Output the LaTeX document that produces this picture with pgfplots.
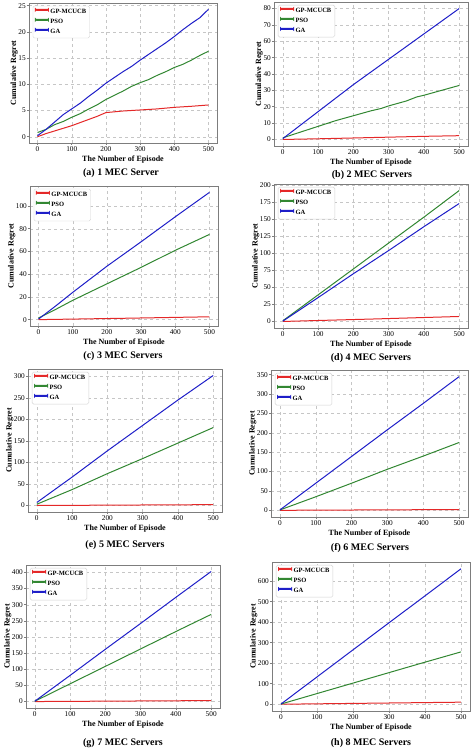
\documentclass[border=0pt]{standalone}
\usepackage{fontspec}
\setmainfont{Liberation Serif}
\usepackage{pgfplots}
\pgfplotsset{compat=1.18}
\definecolor{cred}{RGB}{228,40,40}
\definecolor{cgreen}{RGB}{50,135,50}
\definecolor{cblue}{RGB}{30,30,200}
\definecolor{frame}{RGB}{125,125,125}
\pgfplotsset{
  myax/.style={
    scale only axis,
    anchor=north west,
    xmin=-25, xmax=525,
    xtick={0,100,...,500},
    /pgf/number format/assume math mode=true,
    tick label style={font=\fontsize{7.3}{8}\selectfont, inner sep=1pt},
    label style={font=\bfseries\fontsize{8}{9}\selectfont},
    xlabel={The Number of Episode},
    ylabel={Cumulative Regret},
    ylabel style={yshift=-4pt},
    grid=major,
    major grid style={dashed, gray!45, line width=0.4pt},
    axis line style={frame, line width=0.9pt},
    tick align=outside,
    major tick length=2pt,
    tick style={frame, line width=0.5pt},
    xtick pos=bottom, ytick pos=left,
    legend style={at={(0.02,0.98)}, anchor=north west,
      font=\bfseries\fontsize{6.5}{7}\selectfont,
      draw=gray!35, rounded corners=1.5pt, row sep=1pt,
      nodes={text height=4.6pt, text depth=1.4pt, inner sep=1.5pt},
      inner xsep=2pt, inner ysep=1.5pt, cells={anchor=west}},
    legend image code/.code={\fill[#1] (0pt,1.7pt) rectangle (13pt,2.7pt);},
    legend cell align=left,
  },
}
\begin{document}
\begin{tikzpicture}
\useasboundingbox (0pt,0pt) rectangle (474pt,-749pt);
% (a)
\begin{axis}[myax, at={(29pt,-3pt)}, width=188pt, height=140pt, ymin=-1.2, ymax=25.5, ytick={0,5,...,25}]
\addplot[cred, line width=1pt] coordinates {(0,0)(25,0.6)(50,1.1)(75,1.6)(100,2.1)(125,2.7)(150,3.3)(175,3.9)(200,4.6)(250,4.9)(300,5.1)(350,5.3)(400,5.6)(450,5.8)(500,6.05)};
\addplot[cgreen, line width=1pt] coordinates {(0,0.8)(25,1.4)(50,2.3)(75,2.9)(100,3.7)(125,4.4)(150,5.3)(175,6.1)(200,7.1)(225,7.9)(250,8.7)(275,9.6)(300,10.3)(325,10.9)(350,11.7)(375,12.4)(400,13.2)(425,13.8)(450,14.6)(475,15.5)(500,16.3)};
\addplot[cblue, line width=1pt] coordinates {(0,0.2)(25,1.4)(50,2.8)(75,4.2)(100,5.3)(125,6.4)(150,7.7)(175,8.9)(200,10.2)(225,11.3)(250,12.4)(275,13.4)(300,14.6)(325,15.7)(350,16.8)(375,17.9)(400,19.1)(425,20.4)(450,21.6)(475,22.7)(500,24.3)};
\legend{GP-MCUCB,PSO,GA}
\end{axis}
% (b)
\begin{axis}[myax, at={(274pt,-2pt)}, width=194pt, height=144pt, ymin=-4, ymax=84, ytick={0,10,...,80}]
\addplot[cred, line width=1pt] coordinates {(0,0)(100,0.4)(200,0.9)(300,1.4)(400,1.9)(500,2.3)};
\addplot[cgreen, line width=1pt] coordinates {(0,1)(50,4.5)(100,8)(150,11.5)(200,14.5)(250,17.5)(280,19)(300,20.5)(350,23.5)(380,26)(400,27)(450,30)(500,33)};
\addplot[cblue, line width=1pt] coordinates {(0,0.5)(100,17)(200,33.5)(300,49)(400,64.5)(500,80)};
\legend{GP-MCUCB,PSO,GA}
\end{axis}
% (c)
\begin{axis}[myax, at={(30pt,-186pt)}, width=188pt, height=140pt, ymin=-5.6, ymax=117.6, ytick={0,20,...,100}]
\addplot[cred, line width=1pt] coordinates {(0,0)(250,1.2)(500,2.5)};
\addplot[cgreen, line width=1pt] coordinates {(0,1.5)(50,9)(100,17)(200,31.5)(300,46)(400,61)(500,75)};
\addplot[cblue, line width=1pt] coordinates {(0,0.5)(50,12)(100,24)(200,47)(300,68.5)(400,90.5)(500,112)};
\legend{GP-MCUCB,PSO,GA}
\end{axis}
% (d)
\begin{axis}[myax, at={(274pt,-184pt)}, width=194pt, height=144pt, ymin=-9.6, ymax=201.6, ytick={0,25,...,200}]
\addplot[cred, line width=1pt] coordinates {(0,0)(250,3.5)(500,7.3)};
\addplot[cgreen, line width=1pt] coordinates {(0,1)(100,39)(200,77)(300,115)(400,153)(500,192)};
\addplot[cblue, line width=1pt] coordinates {(0,0.5)(100,35)(200,70)(300,104)(400,139)(500,173)};
\legend{GP-MCUCB,PSO,GA}
\end{axis}
% (e)
\begin{axis}[myax, at={(28pt,-369pt)}, width=194pt, height=143pt, ymin=-15.1, ymax=317.1, ytick={0,50,...,300}]
\addplot[cred, line width=1pt] coordinates {(0,0)(250,1)(500,2)};
\addplot[cgreen, line width=1pt] coordinates {(0,3)(100,37)(200,74)(300,109)(400,145)(500,181)};
\addplot[cblue, line width=1pt] coordinates {(0,7)(100,66)(200,127)(300,186)(400,245)(500,302)};
\legend{GP-MCUCB,PSO,GA}
\end{axis}
% (f)
\begin{axis}[myax, at={(271pt,-370pt)}, width=197pt, height=147pt, ymin=-17.25, ymax=362.25, ytick={0,50,...,350}]
\addplot[cred, line width=1pt] coordinates {(0,0)(500,2)};
\addplot[cgreen, line width=1pt] coordinates {(0,1)(100,35)(200,70)(300,106)(400,140)(500,175)};
\addplot[cblue, line width=1pt] coordinates {(0,1)(100,70)(200,139)(300,208)(400,276)(500,345)};
\legend{GP-MCUCB,PSO,GA}
\end{axis}
% (g)
\begin{axis}[myax, at={(26pt,-565pt)}, width=194pt, height=143pt, ymin=-20, ymax=423, ytick={0,50,...,400}]
\addplot[cred, line width=1pt] coordinates {(0,0)(500,3)};
\addplot[cgreen, line width=1pt] coordinates {(0,1)(100,55)(200,109)(300,163)(400,217)(500,270)};
\addplot[cblue, line width=1pt] coordinates {(0,1)(100,81)(200,162)(300,242)(400,323)(500,403)};
\legend{GP-MCUCB,PSO,GA}
\end{axis}
% (h)
\begin{axis}[myax, at={(272pt,-562pt)}, width=198pt, height=149pt, ymin=-33, ymax=693, ytick={0,100,...,600}]
\addplot[cred, line width=1pt] coordinates {(0,0)(250,5)(500,10)};
\addplot[cgreen, line width=1pt] coordinates {(0,1)(100,52)(200,103)(300,154)(400,205)(500,255)};
\addplot[cblue, line width=1pt] coordinates {(0,1)(100,133)(200,265)(300,397)(400,528)(500,660)};
\legend{GP-MCUCB,PSO,GA}
\end{axis}
% titles
\begin{scope}[every node/.style={font=\bfseries\fontsize{10}{12}\selectfont}]
\node at (121pt,-173pt) {(a) 1 MEC Server};
\node at (372pt,-175pt) {(b) 2 MEC Servers};
\node at (123pt,-356pt) {(c) 3 MEC Servers};
\node at (371pt,-358pt) {(d) 4 MEC Servers};
\node at (125pt,-545pt) {(e) 5 MEC Servers};
\node at (370pt,-548pt) {(f) 6 MEC Servers};
\node at (123pt,-743pt) {(g) 7 MEC Servers};
\node at (371pt,-743pt) {(h) 8 MEC Servers};
\end{scope}
\end{tikzpicture}
\end{document}
